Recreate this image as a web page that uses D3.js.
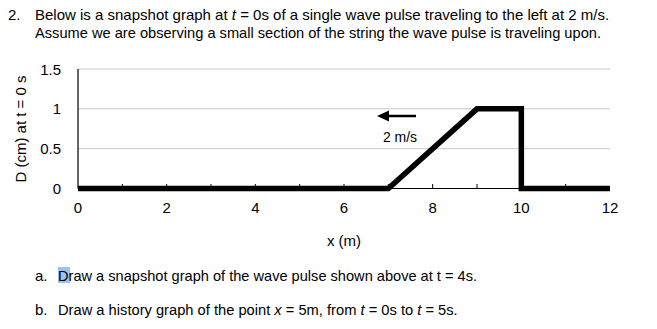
<!DOCTYPE html>
<html><head><meta charset="utf-8">
<script src="https://cdn.jsdelivr.net/npm/d3@7"></script>
<style>body{margin:0;background:#fff;} text{font-family:"Liberation Sans",Arial,sans-serif;}</style>
</head><body>
<svg id="c" width="657" height="329"></svg>
<script>
const pulseX = [0, 7, 9, 10, 10, 12];
const pulseD = [0, 0, 1, 1, 0, 0];
const xTicks = [0, 2, 4, 6, 8, 10, 12];
const yTicks = [0, 0.5, 1, 1.5];
const yTickLabels = ["0", "0.5", "1", "1.5"];
const minorTicks = [1,2,3,4,5,6,7,8,9,10,11];

const svg = d3.select("#c");
const x = d3.scaleLinear().domain([0, 12]).range([78, 610]);
const y = d3.scaleLinear().domain([0, 1.5]).range([188.5, 69]);

// grid
svg.append("g").selectAll("line").data(yTicks.filter(v => v > 0)).join("line")
  .attr("x1", x(0)).attr("x2", x(12)).attr("y1", d => y(d)).attr("y2", d => y(d))
  .attr("stroke", "#c8c8c8").attr("stroke-width", 1);

// x axis line
svg.append("line").attr("x1", x(0)).attr("x2", x(12)).attr("y1", y(0)).attr("y2", y(0))
  .attr("stroke", "#000").attr("stroke-width", 1);

// minor ticks on x axis
svg.append("g").selectAll("line").data(minorTicks).join("line")
  .attr("x1", d => x(d)).attr("x2", d => x(d)).attr("y1", y(0)).attr("y2", y(0) - 4.5)
  .attr("stroke", "#000").attr("stroke-width", 1);

// y axis line
svg.append("line").attr("x1", x(0)).attr("x2", x(0)).attr("y1", y(1.5)).attr("y2", y(0))
  .attr("stroke", "#000").attr("stroke-width", 1.2);

// y tick labels
svg.append("g").selectAll("text").data(yTicks).join("text")
  .attr("x", 61).attr("y", d => y(d) + 5.5).attr("text-anchor", "end")
  .attr("font-size", 15).text((d, i) => yTickLabels[i]);

// x tick labels
svg.append("g").selectAll("text").data(xTicks).join("text")
  .attr("x", d => x(d)).attr("y", 213).attr("text-anchor", "middle")
  .attr("font-size", 15).text(d => d);

// axis titles
svg.append("text").attr("x", x(6)).attr("y", 246).attr("text-anchor", "middle")
  .attr("font-size", 15).text("x (m)");
svg.append("text").attr("transform", "translate(26,129) rotate(-90)").attr("text-anchor", "middle")
  .attr("font-size", 15).text("D (cm) at t = 0 s");

// pulse
const line = d3.line().x((d, i) => x(pulseX[i])).y((d, i) => y(pulseD[i]));
svg.append("path").datum(pulseX).attr("d", line).attr("fill", "none")
  .attr("stroke", "#000").attr("stroke-width", 5.5).attr("stroke-linejoin", "miter");

// arrow
svg.append("line").attr("x1", 416).attr("x2", 384).attr("y1", 116).attr("y2", 116)
  .attr("stroke", "#000").attr("stroke-width", 2.5);
svg.append("path").attr("d", "M377,116 L389,110.5 L389,121.5 Z").attr("fill", "#000");
svg.append("text").attr("x", 400).attr("y", 142).attr("text-anchor", "middle")
  .attr("font-size", 14).text("2 m/s");

// header text
svg.append("text").attr("x", 8).attr("y", 20).attr("font-size", 15).text("2.");
const h1 = svg.append("text").attr("x", 35).attr("y", 20).attr("font-size", 15);
h1.append("tspan").text("Below is a snapshot graph at ");
h1.append("tspan").attr("font-style", "italic").text("t");
h1.append("tspan").text(" = 0s of a single wave pulse traveling to the left at 2 m/s.");
svg.append("text").attr("x", 35).attr("y", 38).attr("font-size", 15)
  .attr("textLength", 566).attr("lengthAdjust", "spacingAndGlyphs")
  .text("Assume we are observing a small section of the string the wave pulse is traveling upon.");

// questions
svg.append("rect").attr("x", 58).attr("y", 267).attr("width", 12).attr("height", 16).attr("fill", "#9dc3e6");
svg.append("text").attr("x", 35).attr("y", 281).attr("font-size", 15).text("a.");
svg.append("text").attr("x", 58).attr("y", 281).attr("font-size", 15)
  .attr("textLength", 419).attr("lengthAdjust", "spacingAndGlyphs")
  .text("Draw a snapshot graph of the wave pulse shown above at t = 4s.");
svg.append("text").attr("x", 35).attr("y", 315).attr("font-size", 15).text("b.");
const b = svg.append("text").attr("x", 58).attr("y", 315).attr("font-size", 14.7);
b.append("tspan").text("Draw a history graph of the point ");
b.append("tspan").attr("font-style", "italic").text("x");
b.append("tspan").text(" = 5m, from ");
b.append("tspan").attr("font-style", "italic").text("t");
b.append("tspan").text(" = 0s to ");
b.append("tspan").attr("font-style", "italic").text("t");
b.append("tspan").text(" = 5s.");
</script>
</body></html>
